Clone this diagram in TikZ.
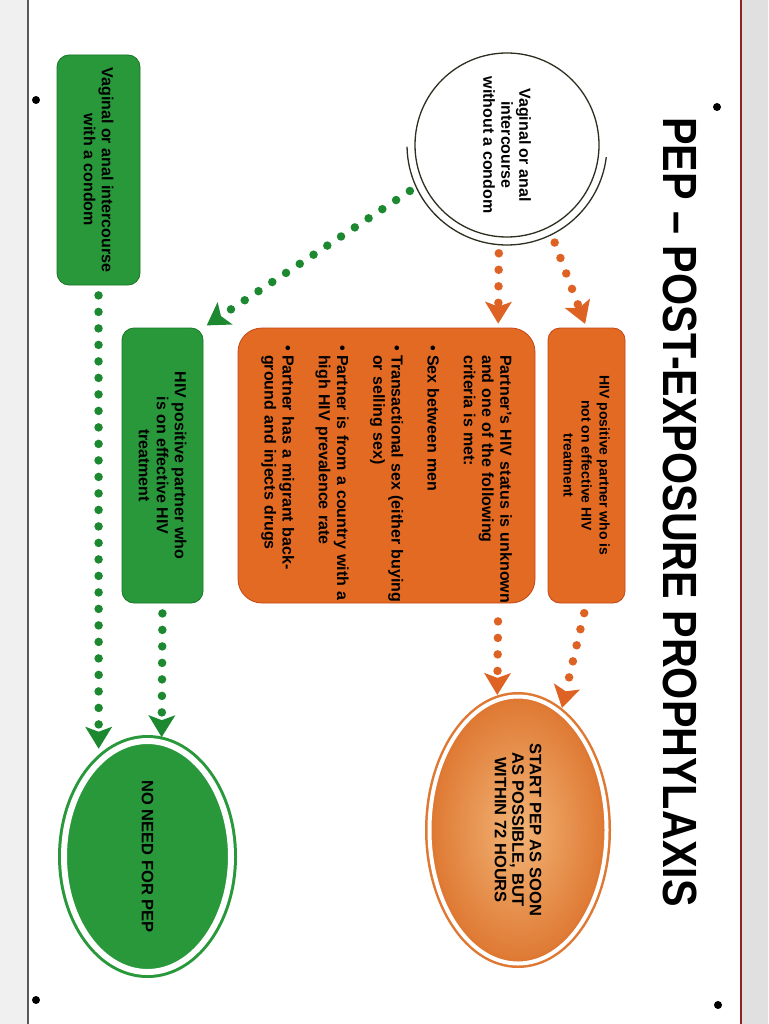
\documentclass[tikz,border=0pt]{standalone}
\usepackage{fontspec}
\setmainfont{Liberation Sans}
\usetikzlibrary{arrows.meta,shapes.geometric,positioning}

\definecolor{pepgreen}{RGB}{40,152,58}
\definecolor{pepgreendark}{RGB}{24,118,40}
\definecolor{peporange}{RGB}{226,106,34}
\definecolor{peporangedark}{RGB}{196,70,22}
\definecolor{pepcore}{RGB}{242,180,118}
\definecolor{pepedge}{RGB}{222,120,50}
\definecolor{dotgreen}{RGB}{28,136,48}
\definecolor{dotorange}{RGB}{222,98,36}
\definecolor{ringgrey}{RGB}{46,46,32}
\definecolor{edgered}{RGB}{140,36,36}

\newcommand{\critem}{\leavevmode\llap{\textbullet\hspace{4pt}}}

\tikzset{
  bodyfont/.style={font=\bfseries\fontsize{16}{18}\selectfont},
  greenbox/.style={draw=pepgreendark, fill=pepgreen, line width=0.8pt,
    rounded corners=12pt, align=center, inner sep=0pt, bodyfont},
  orangebox/.style={draw=peporangedark, fill=peporange, line width=0.8pt,
    rounded corners=12pt, align=center, inner sep=0pt, bodyfont},
  pepoval/.style={ellipse, draw=pepedge, double=white, double distance=4pt,
    line width=2.5pt, inner color=pepcore, outer color=pepedge,
    minimum width=267pt, minimum height=177pt, inner sep=0pt, align=center,
    font=\bfseries\fontsize{16.5}{17.5}\selectfont},
  nooval/.style={ellipse, draw=pepgreen, double=white, double distance=6pt,
    line width=3pt, fill=pepgreen, minimum width=231pt, minimum height=167pt,
    inner sep=0pt, align=center, font=\bfseries\fontsize{16.5}{18}\selectfont},
  dotline/.style={line width=8.5pt, line cap=round, dash pattern=on 0pt off 16.5pt,
    shorten <=10pt, shorten >=4pt,
    -{Stealth[length=22pt, width=27pt, inset=5pt, line width=0pt]}},
  greendots/.style={dotline, draw=dotgreen},
  orangedots/.style={dotline, draw=dotorange},
}

\begin{document}
\begin{tikzpicture}[x=1pt, y=1pt]
\begin{scope}[rotate=-90, transform shape]
  \useasboundingbox (0,0) rectangle (1024,768);
  % paper
  \fill[white] (0,0) rectangle (1024,768);
  \fill[black!6] (0,0) rectangle (1024,27);
  \draw[black!65, line width=1.5pt] (0,28) -- (1024,28);
  \fill[black!12] (0,742) rectangle (1024,768);
  \draw[edgered, line width=2pt] (0,741) -- (1024,741);
  \foreach \p in {(100,36),(1000,36),(107,717),(1005,718)}
    \fill[black] \p circle (4);

  \node[font=\bfseries\fontsize{48}{50}\selectfont] (title) at (512,680)
    {\scalebox{0.86}[1]{PEP – POST-EXPOSURE PROPHYLAXIS}};

  % starting situations
  \node[circle, draw=ringgrey, line width=1.3pt, minimum size=184pt,
    inner sep=0pt, align=center, bodyfont] (nocondom) at (145,507)
    {Vaginal or anal\\intercourse\\without a condom};
  \draw[ringgrey, line width=1.3pt] (nocondom.center) ++(-89:100)
    arc[start angle=-89, end angle=83, radius=100];
  \node[greenbox, minimum width=230pt, minimum height=83pt] (condom) at (170,98.5)
    {Vaginal or anal intercourse\\with a condom};

  % partner status
  \node[orangebox, minimum width=275pt, minimum height=77pt,
    font=\bfseries\fontsize{14}{18}\selectfont] (nottreated) at (465.5,586.5)
    {HIV positive partner who is\\not on effective HIV\\treatment};
  \node[orangebox, rounded corners=24pt, minimum width=275pt,
    minimum height=297pt] (criteria) at (465.5,386.5) {};
  \node[anchor=west, align=left, text width=250pt,
    font=\bfseries\fontsize{16}{18.2}\selectfont] (criterialist)
    at ([xshift=24pt]criteria.west)
    {Partner’s HIV status is unknown\\
     and one of the following\\
     criteria is met:\\[18pt]
     \critem Sex between men\\[18pt]
     \critem Transactional sex (either buying\\
     or selling sex)\\[18pt]
     \critem Partner is from a country with a\\
     high HIV prevalence rate\\[18pt]
     \critem Partner has a migrant back-\\
     ground and injects drugs};
  \node[greenbox, minimum width=275pt, minimum height=81pt] (treated) at (465.5,162.5)
    {HIV positive partner who\\is on effective HIV\\treatment};

  % outcomes
  \node[pepoval] (startpep) at (830,518)
    {START PEP AS SOON\\AS POSSIBLE, BUT\\WITHIN 72 HOURS};
  \node[nooval] (nopep) at (856.5,147.5) {NO NEED FOR PEP};

  % dotted connectors
  \draw[greendots, shorten <=15pt] (nocondom.-66) -- (treated.north west);
  \draw[orangedots, shorten <=16pt] (nocondom.-5) -- (criteria.141);
  \draw[orangedots, shorten <=16pt] (nocondom.27) -- (nottreated.west);
  \draw[orangedots, shorten <=18pt] (criteria.39) -- (startpep.189);
  \draw[orangedots] (nottreated.east) -- (startpep.160);
  \draw[greendots] (treated.east) -- (nopep.173);
  \draw[greendots, shorten >=12pt] (condom.east) -- (nopep.207);
\end{scope}
\end{tikzpicture}
\end{document}
